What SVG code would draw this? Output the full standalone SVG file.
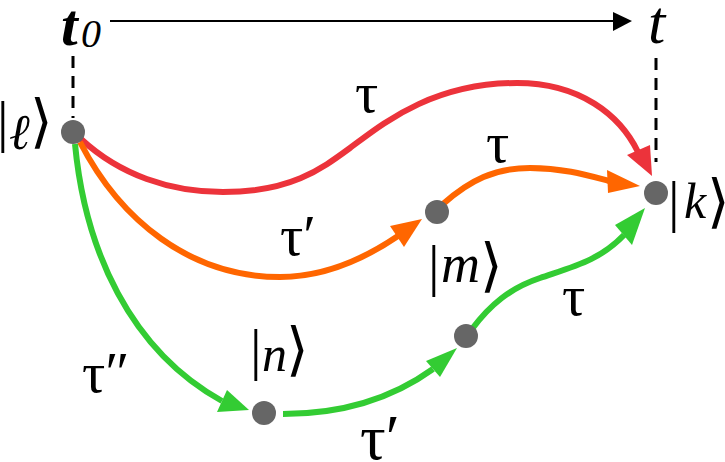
<svg xmlns="http://www.w3.org/2000/svg" width="725" height="462" viewBox="0 0 725 462">
<style>
.c{fill:none;stroke-width:6;stroke-linecap:butt}
.r{stroke:#EC333B}.o{stroke:#FF6600}.g{stroke:#33CC33}
.ra{fill:#EC333B}.oa{fill:#FF6600}.ga{fill:#33CC33}
.n{fill:#666666}
text{font-family:"Liberation Serif","Times New Roman",serif;fill:#000}
.lbl{font-size:58px}
.ket{font-size:50px}
.br{font-size:58px;font-style:normal}
.it{font-style:italic}
.dash{stroke:#000;stroke-width:3;stroke-dasharray:12,8;fill:none}
</style>
<g id="axis">
<line x1="110" y1="21" x2="615" y2="21" stroke="#000" stroke-width="2"/>
<path d="M613,12 L632,21 L613,31 z" fill="#000"/>
<text x="61" y="45" font-style="italic" font-weight="bold" font-size="60">t</text>
<text x="81" y="47" font-style="italic" font-size="40">0</text>
<text x="648" y="43" font-style="italic" font-size="62">t</text>
<line x1="73" y1="56" x2="73" y2="118" class="dash"/>
<line x1="656" y1="58" x2="656" y2="162" class="dash"/>
</g>
<g id="connectors">
<path class="c r" d="M81,139 C120,175 170,192 223,192 C290,192 320,170 350,148 S430,83 517,83 C580,83 620,115 638,152"/>
<path class="ra" d="M627,155 L652,176 L650,145 z"/>
<path class="c o" d="M80,142 C120,220 190,277 280,277 C330,277 370,255 398,236"/>
<path class="oa" d="M390,226 L422,219 L404,247 z"/>
<path class="c o" d="M443,204 C470,180 495,168 530,168 C565,168 590,176 609,181"/>
<path class="oa" d="M607,170 L640,186 L608,193 z"/>
<path class="c g" d="M75,144 C85,250 130,350 222,401"/>
<path class="ga" d="M227,390 L249,410 L217,412 z"/>
<path class="c g" d="M283,414 C340,414 390,400 433,369"/>
<path class="ga" d="M426,361 L457,348 L440,377 z"/>
<path class="c g" d="M472,329 C490,305 510,288 540,278 C575,266 600,260 624,235"/>
<path class="ga" d="M615,225 L645,208 L632,245 z"/>
</g>
<g id="node-l"><circle cx="73" cy="132" r="12" class="n"/><text class="ket"><tspan class="br" x="-3" y="141">|</tspan><tspan class="it" x="9" y="149">ℓ</tspan><tspan class="br" x="30" y="141">⟩</tspan></text></g>
<g id="node-k"><circle cx="656" cy="193" r="12" class="n"/><text class="ket"><tspan class="br" x="668" y="221">|</tspan><tspan class="it" x="684" y="218">k</tspan><tspan class="br" x="707" y="221">⟩</tspan></text></g>
<g id="node-m"><circle cx="437" cy="212" r="12" class="n"/><text class="ket"><tspan class="br" x="428" y="285">|</tspan><tspan class="it" x="441" y="282" style="font-size:54px">m</tspan><tspan class="br" x="480" y="285">⟩</tspan></text></g>
<g id="node-n"><circle cx="264" cy="413" r="12" class="n"/><text class="ket"><tspan class="br" x="250" y="369">|</tspan><tspan class="it" x="262" y="371">n</tspan><tspan class="br" x="286" y="369">⟩</tspan></text></g>
<g id="node-p"><circle cx="466" cy="336" r="12" class="n"/></g>
<g id="labels">
<text x="355" y="112" class="lbl">τ</text>
<text x="486" y="162" class="lbl">τ</text>
<text x="280" y="255" class="lbl">τ′</text>
<text x="562" y="315" class="lbl">τ</text>
<text x="82" y="392" class="lbl">τ″</text>
<text x="360" y="459" class="lbl" style="font-size:64px">τ′</text>
</g>
</svg>
